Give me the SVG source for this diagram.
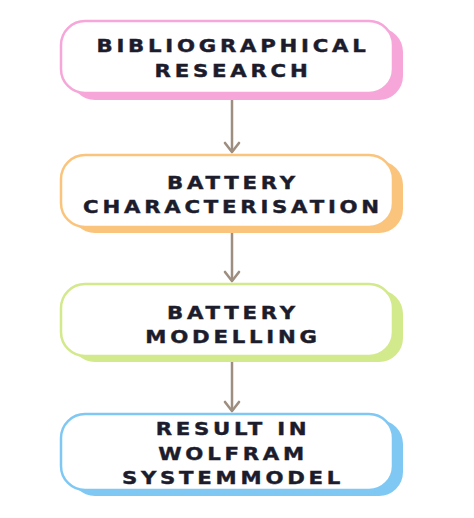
<svg xmlns="http://www.w3.org/2000/svg" width="474" height="518" viewBox="0 0 474 518">
<style>
.box{fill:#ffffff;stroke-width:2.5}
.t{font-family:"DejaVu Sans","Liberation Sans",sans-serif;font-weight:bold;font-size:17px;letter-spacing:3px;fill:#1c1c2c;text-anchor:middle;stroke:#1c1c2c;stroke-width:0.4}
.conn{stroke:#9e8e80;stroke-width:2.5;fill:none}
.head{stroke:#9e8e80;stroke-width:2.6;fill:none;stroke-linejoin:round;stroke-linecap:round}
</style>
<rect width="474" height="518" fill="#ffffff"/>
<g id="connectors">
<path class="conn" d="M232,99 V152"/>
<path class="head" d="M225,143 L232,152 L239,143"/>
<path class="conn" d="M232,233 V281"/>
<path class="head" d="M225,272 L232,281 L239,272"/>
<path class="conn" d="M232,362 V411"/>
<path class="head" d="M225,402 L232,411 L239,402"/>
</g>
<g id="node1">
<rect x="71" y="28" width="332" height="72" rx="24" fill="#f6a6d9"/>
<rect class="box" x="61" y="21" width="332" height="72" rx="24" stroke="#f6a6d9"/>
<g transform="translate(233,0) scale(1.25,1)">
<text class="t" x="0" y="52">BIBLIOGRAPHICAL</text>
<text class="t" x="0" y="77">RESEARCH</text>
</g>
</g>
<g id="node2">
<rect x="71" y="161" width="332" height="72" rx="24" fill="#fbc47c"/>
<rect class="box" x="61" y="155" width="332" height="72" rx="24" stroke="#fbc47c"/>
<g transform="translate(233,0) scale(1.25,1)">
<text class="t" x="0" y="189">BATTERY</text>
<text class="t" x="0" y="213">CHARACTERISATION</text>
</g>
</g>
<g id="node3">
<rect x="71" y="290" width="332" height="72" rx="24" fill="#d2e98c"/>
<rect class="box" x="61" y="284" width="332" height="72" rx="24" stroke="#d2e98c"/>
<g transform="translate(233,0) scale(1.25,1)">
<text class="t" x="0" y="319">BATTERY</text>
<text class="t" x="0" y="343">MODELLING</text>
</g>
</g>
<g id="node4">
<rect x="71" y="420" width="332" height="76" rx="24" fill="#80c8f4"/>
<rect class="box" x="61" y="414" width="332" height="76" rx="24" stroke="#80c8f4"/>
<g transform="translate(233,0) scale(1.25,1)">
<text class="t" x="0" y="435">RESULT IN</text>
<text class="t" x="0" y="460">WOLFRAM</text>
<text class="t" x="0" y="484">SYSTEMMODEL</text>
</g>
</g>
</svg>
